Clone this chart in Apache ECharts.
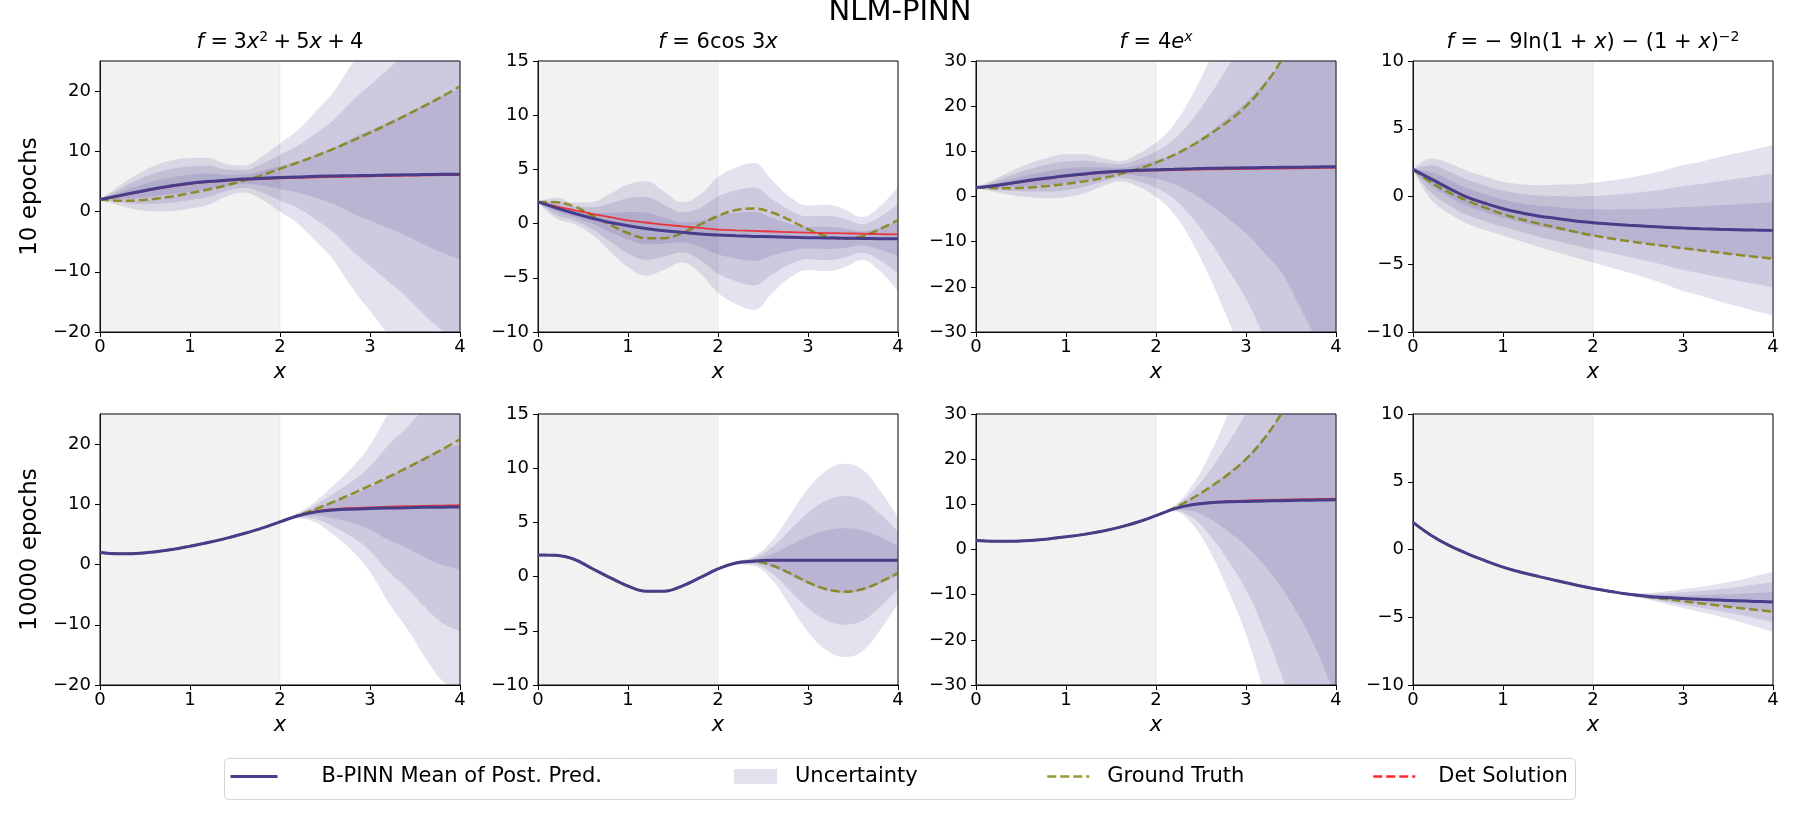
<!DOCTYPE html>
<html><head><meta charset="utf-8">
<script src="https://cdn.jsdelivr.net/npm/echarts@6/dist/echarts.min.js"></script>
<style>html,body{margin:0;padding:0;background:#fff}#c{width:1800px;height:831px}</style>
</head><body><div id="c"></div>
<script>
// ---------------- data ----------------
const xs = [0, 0.2, 0.4, 0.6, 0.8, 1.0, 1.2, 1.4, 1.6, 1.8, 2.0, 2.2, 2.4, 2.6, 2.8, 3.0, 3.2, 3.4, 3.6, 3.8, 4.0];
const trainEnd = 2;

const titles = [
  '{i|f} =\u20053{i|x}{s|2}\u2005+\u20055{i|x}\u2005+\u20054',
  '{i|f} = 6cos 3{i|x}',
  '{i|f} = 4{i|e}{si|x}',
  '{i|f} = \u2212 9ln(1 + {i|x}) \u2212 (1 + {i|x}){s|\u22122}'
];
const rowNames = ['10 epochs', '10000 epochs'];

const yTicks_c1 = [-20, -10, 0, 10, 20];
const yTicks_c2 = [-10, -5, 0, 5, 10, 15];
const yTicks_c3 = [-30, -20, -10, 0, 10, 20, 30];
const yTicks_c4 = [-10, -5, 0, 5, 10];
const yRange_c1 = [-20, 25];
const yRange_c2 = [-10, 15];
const yRange_c3 = [-30, 30];
const yRange_c4 = [-10, 10];

// ground truth per column (same function in both rows)
const truth_c1 = [2.0, 1.8, 1.85, 2.1, 2.5, 3.05, 3.65, 4.35, 5.15, 6.05, 7.1, 8.15, 9.25, 10.45, 11.75, 13.1, 14.5, 16.0, 17.5, 19.1, 20.8];
const truth_c2 = [2.0, 1.97, 1.6, 0.75, -0.1, -0.87, -1.34, -1.34, -0.87, -0.1, 0.71, 1.26, 1.39, 1.02, 0.31, -0.52, -1.16, -1.39, -1.16, -0.51, 0.32];
const truth_c3 = [2.0, 1.85, 1.85, 2.0, 2.35, 2.8, 3.35, 4.05, 4.95, 6.1, 7.5, 9.2, 11.3, 13.8, 16.6, 20.0, 24.5, 30.3, 37, 45, 54];
const truth_c4 = [2.0, 1.05, 0.3, -0.3, -0.82, -1.3, -1.68, -2.0, -2.3, -2.6, -2.88, -3.1, -3.3, -3.48, -3.65, -3.82, -3.98, -4.14, -4.3, -4.45, -4.6];

// row 1 : 10 epochs
const mean_r1_c1 = [2.0, 2.6, 3.2, 3.8, 4.3, 4.7, 5.0, 5.2, 5.4, 5.55, 5.65, 5.75, 5.85, 5.9, 5.95, 6.0, 6.05, 6.1, 6.15, 6.2, 6.2];
const std_r1_c1  = [0, 0.5, 0.95, 1.25, 1.4, 1.4, 1.3, 0.9, 0.75, 1.2, 1.9, 2.6, 3.6, 4.7, 6.2, 7.5, 8.8, 10.1, 11.6, 13.0, 14.2];
const det_r1_c1  = [2.0, 2.5, 3.1, 3.7, 4.2, 4.6, 4.9, 5.1, 5.3, 5.4, 5.5, 5.6, 5.7, 5.75, 5.8, 5.85, 5.9, 5.95, 6.0, 6.05, 6.05];

const mean_r1_c2 = [2.0, 1.45, 0.95, 0.5, 0.1, -0.2, -0.45, -0.65, -0.8, -0.95, -1.05, -1.12, -1.18, -1.22, -1.26, -1.3, -1.32, -1.35, -1.37, -1.39, -1.4];
const std_r1_c2  = [0, 0.32, 0.33, 0.5, 0.88, 1.27, 1.45, 1.2, 0.92, 1.2, 1.78, 2.1, 2.26, 1.74, 1.24, 0.99, 1.02, 0.9, 0.66, 1.0, 1.6];
const det_r1_c2  = [2.0, 1.6, 1.25, 0.9, 0.6, 0.3, 0.1, -0.1, -0.25, -0.4, -0.55, -0.62, -0.68, -0.73, -0.78, -0.83, -0.87, -0.9, -0.93, -0.97, -1.0];

const mean_r1_c3 = [2.0, 2.4, 3.0, 3.6, 4.1, 4.6, 5.0, 5.35, 5.6, 5.8, 5.95, 6.05, 6.15, 6.25, 6.3, 6.35, 6.4, 6.45, 6.5, 6.55, 6.6];
const std_r1_c3  = [0, 0.45, 0.9, 1.25, 1.5, 1.58, 1.45, 1.05, 0.75, 1.2, 2.0, 3.3, 5.4, 8.1, 11.2, 14.5, 18.8, 23.5, 31, 39, 48];
const det_r1_c3  = [2.0, 2.3, 2.85, 3.45, 3.95, 4.45, 4.85, 5.2, 5.45, 5.6, 5.75, 5.85, 5.95, 6.0, 6.05, 6.1, 6.15, 6.2, 6.25, 6.3, 6.35];

const mean_r1_c4 = [2.0, 1.3, 0.6, -0.05, -0.5, -0.9, -1.2, -1.45, -1.62, -1.8, -1.93, -2.03, -2.12, -2.2, -2.27, -2.33, -2.38, -2.42, -2.45, -2.48, -2.5];
const std_r1_c4  = [0, 0.5, 0.62, 0.65, 0.66, 0.66, 0.7, 0.76, 0.83, 0.9, 0.98, 1.07, 1.17, 1.28, 1.4, 1.55, 1.65, 1.77, 1.88, 1.99, 2.1];
const det_r1_c4  = [2.0, 1.3, 0.6, -0.05, -0.5, -0.9, -1.2, -1.45, -1.62, -1.8, -1.93, -2.03, -2.12, -2.2, -2.27, -2.33, -2.38, -2.42, -2.45, -2.48, -2.5];

// row 2 : 10000 epochs
const mean_r2_c1 = [2.0, 1.8, 1.85, 2.1, 2.5, 3.05, 3.65, 4.35, 5.15, 6.05, 7.1, 8.1, 8.75, 9.05, 9.2, 9.3, 9.38, 9.44, 9.5, 9.53, 9.55];
const std_r2_c1  = [0, 0, 0, 0, 0, 0, 0, 0, 0, 0, 0.02, 0.15, 0.6, 1.4, 2.3, 3.5, 5.2, 6.6, 8.2, 9.6, 10.3];
const det_r2_c1  = [2.0, 1.8, 1.85, 2.1, 2.5, 3.05, 3.65, 4.35, 5.15, 6.05, 7.1, 8.1, 8.85, 9.2, 9.4, 9.5, 9.6, 9.68, 9.75, 9.8, 9.85];

const mean_r2_c2 = [2.0, 1.97, 1.6, 0.75, -0.1, -0.87, -1.34, -1.34, -0.87, -0.1, 0.71, 1.26, 1.43, 1.5, 1.5, 1.5, 1.5, 1.5, 1.5, 1.5, 1.5];
const std_r2_c2  = [0, 0, 0, 0, 0, 0, 0, 0, 0, 0, 0, 0.05, 0.15, 0.6, 1.4, 2.2, 2.75, 2.97, 2.8, 2.15, 1.33];
const det_r2_c2  = [2.0, 1.97, 1.6, 0.75, -0.1, -0.87, -1.34, -1.34, -0.87, -0.1, 0.71, 1.26, 1.43, 1.5, 1.5, 1.5, 1.5, 1.5, 1.5, 1.5, 1.5];

const mean_r2_c3 = [2.0, 1.85, 1.85, 2.0, 2.35, 2.8, 3.35, 4.05, 4.95, 6.1, 7.5, 9.0, 9.9, 10.35, 10.55, 10.65, 10.75, 10.82, 10.9, 10.95, 11.0];
const std_r2_c3  = [0, 0, 0, 0, 0, 0, 0, 0, 0, 0, 0, 0.2, 1.4, 3.6, 6.5, 9.8, 14.2, 19.5, 26, 34, 44];
const det_r2_c3  = [2.0, 1.85, 1.85, 2.0, 2.35, 2.8, 3.35, 4.05, 4.95, 6.1, 7.5, 9.0, 9.95, 10.45, 10.7, 10.85, 10.95, 11.05, 11.12, 11.2, 11.25];

const mean_r2_c4 = [2.0, 1.05, 0.3, -0.3, -0.82, -1.3, -1.68, -2.0, -2.3, -2.6, -2.88, -3.1, -3.3, -3.45, -3.55, -3.62, -3.68, -3.73, -3.78, -3.83, -3.87];
const std_r2_c4  = [0, 0, 0, 0, 0, 0, 0, 0, 0, 0, 0, 0, 0.03, 0.08, 0.15, 0.23, 0.31, 0.4, 0.5, 0.62, 0.74];
const det_r2_c4  = [2.0, 1.05, 0.3, -0.3, -0.82, -1.3, -1.68, -2.0, -2.3, -2.6, -2.88, -3.1, -3.3, -3.45, -3.55, -3.62, -3.68, -3.73, -3.78, -3.83, -3.87];

const bandLevels = [3, 2, 1];
const seriesNames = ['B-PINN Mean of Post. Pred.', 'Uncertainty', 'Ground Truth', 'Det Solution'];

// ---------------- layout / style ----------------
const FONT = "'DejaVu Sans', sans-serif";
const colLeft = [100, 538, 976, 1413];
const colW = 360;
const rowTop = [61, 414];
const rowH = 271;
const C_MEAN = '#483D8B';
const C_TRUTH = 'rgba(128,128,0,0.8)';
const C_DET = 'rgba(255,0,0,0.7)';
const C_BAND = 'rgba(72,61,139,0.15)';

const truths = [truth_c1, truth_c2, truth_c3, truth_c4];
const yTicks = [yTicks_c1, yTicks_c2, yTicks_c3, yTicks_c4];
const yRanges = [yRange_c1, yRange_c2, yRange_c3, yRange_c4];
const panels = [
  {mean: mean_r1_c1, std: std_r1_c1, det: det_r1_c1},
  {mean: mean_r1_c2, std: std_r1_c2, det: det_r1_c2},
  {mean: mean_r1_c3, std: std_r1_c3, det: det_r1_c3},
  {mean: mean_r1_c4, std: std_r1_c4, det: det_r1_c4},
  {mean: mean_r2_c1, std: std_r2_c1, det: det_r2_c1},
  {mean: mean_r2_c2, std: std_r2_c2, det: det_r2_c2},
  {mean: mean_r2_c3, std: std_r2_c3, det: det_r2_c3},
  {mean: mean_r2_c4, std: std_r2_c4, det: det_r2_c4}
];

const cats = xs.map(String);
const minusFmt = v => String(v).replace('-', '\u2212');

const grids = [], xAxes = [], yAxes = [], series = [];
panels.forEach((p, idx) => {
  const r = Math.floor(idx / 4), c = idx % 4;
  grids.push({left: colLeft[c], top: rowTop[r], width: colW, height: rowH,
    show: true, borderColor: '#000', borderWidth: 1, backgroundColor: 'transparent'});
  xAxes.push({gridIndex: idx, type: 'category', data: cats, boundaryGap: false,
    axisLine: {show: true, onZero: false, lineStyle: {color: '#000', width: 1}},
    axisTick: {show: true, length: 5, interval: 4, lineStyle: {color: '#000'}},
    axisLabel: {fontSize: 18, fontFamily: FONT, color: '#000', margin: 6, interval: 4},
    splitLine: {show: false},
    name: 'x', nameLocation: 'middle', nameGap: 41,
    nameTextStyle: {fontSize: 21, fontFamily: FONT, fontStyle: 'italic', color: '#000', verticalAlign: 'middle'}});
  const ya = {gridIndex: idx, type: 'value', min: yRanges[c][0], max: yRanges[c][1],
    axisLine: {show: true, onZero: false, lineStyle: {color: '#000', width: 1}},
    axisTick: {show: true, length: 5, lineStyle: {color: '#000'}, customValues: yTicks[c]},
    axisLabel: {fontSize: 18, fontFamily: FONT, color: '#000', margin: 9, customValues: yTicks[c], formatter: minusFmt},
    splitLine: {show: false}};
  if (c === 0) {
    ya.name = rowNames[r];
    ya.nameLocation = 'middle';
    ya.nameGap = 70;
    ya.nameTextStyle = {fontSize: 23, fontFamily: FONT, color: '#000', verticalAlign: 'middle'};
  }
  yAxes.push(ya);

  const common = {xAxisIndex: idx, yAxisIndex: idx, symbol: 'none', showSymbol: false, smooth: 0.4, silent: true, animation: false};
  // uncertainty bands: mean +/- k*std, drawn as stacked areas
  bandLevels.forEach(k => {
    const lower = p.mean.map((m, i) => m - k * p.std[i]);
    const width = p.std.map(s => 2 * k * s);
    const st = 'band_' + idx + '_' + k;
    series.push(Object.assign({}, common, {type: 'line', name: 'band', stack: st, stackStrategy: 'all',
      data: lower, lineStyle: {width: 0, opacity: 0}, z: 2}));
    series.push(Object.assign({}, common, {type: 'line', name: 'band', stack: st, stackStrategy: 'all',
      data: width, lineStyle: {width: 0, opacity: 0},
      areaStyle: {color: C_BAND, opacity: 1}, z: 2}));
  });
  series.push(Object.assign({}, common, {type: 'line', name: seriesNames[2], data: truths[c],
    lineStyle: {color: C_TRUTH, width: 2.5, type: [9, 4]}, itemStyle: {color: C_TRUTH}, z: 3,
    markArea: {silent: true, label: {show: false},
      itemStyle: {color: 'rgba(128,128,128,0.1)', borderColor: 'rgba(128,128,128,0.12)', borderWidth: 1},
      data: [[{xAxis: String(xs[0])}, {xAxis: String(trainEnd)}]]}}));
  series.push(Object.assign({}, common, {type: 'line', name: seriesNames[3], data: p.det,
    lineStyle: {color: C_DET, width: 1.8}, itemStyle: {color: C_DET}, z: 3}));
  series.push(Object.assign({}, common, {type: 'line', name: seriesNames[0], data: p.mean,
    lineStyle: {color: C_MEAN, width: 3}, itemStyle: {color: C_MEAN}, z: 3}));
});
// legend proxy for the uncertainty band
series.push({type: 'line', name: seriesNames[1], xAxisIndex: 0, yAxisIndex: 0, data: [],
  symbol: 'none', itemStyle: {color: '#e3e1ee'}, lineStyle: {width: 0}, areaStyle: {color: '#e3e1ee'}});

const legendItems = [
  {name: seriesNames[0], left: 229, w: 47, pad: 39, line: {width: 3}},
  {name: seriesNames[1], left: 734, w: 43, pad: 13, icon: 'rect'},
  {name: seriesNames[2], left: 1046, w: 42, pad: 13, line: {width: 2.5}},
  {name: seriesNames[3], left: 1372, w: 42, pad: 18, line: {width: 2.5, type: [9, 4], color: 'rgba(255,0,0,0.85)'}}
];
const legends = legendItems.map(it => {
  const lg = {
    left: it.left, top: 766, padding: 0, itemWidth: it.w, itemHeight: 15, selectedMode: false,
    data: [it.icon ? {name: it.name, icon: it.icon} : it.name],
    textStyle: {fontSize: 21, fontFamily: FONT, color: '#000', padding: [0, 0, 0, it.pad]}
  };
  if (!it.icon) {
    lg.lineStyle = it.line;
    lg.itemStyle = {opacity: 0, borderWidth: 0};
  }
  return lg;
});

const richTitle = {
  i: {fontSize: 21, fontFamily: FONT, fontStyle: 'italic', lineHeight: 26, fill: '#000'},
  s: {fontSize: 14, fontFamily: FONT, lineHeight: 14, verticalAlign: 'top', fill: '#000'},
  si: {fontSize: 14, fontFamily: FONT, fontStyle: 'italic', lineHeight: 14, verticalAlign: 'top', fill: '#000'}
};
const graphics = [
  {type: 'rect', left: 224, top: 758, z: 0, silent: true,
    shape: {width: 1351, height: 41, r: 4}, style: {fill: '#fff', stroke: '#d5d5d5', lineWidth: 1}},
  {type: 'text', x: 900, y: 12, silent: true,
    style: {text: 'NLM-PINN', fontSize: 29, fontFamily: FONT, fill: '#000',
      align: 'center', verticalAlign: 'middle', textAlign: 'center', textVerticalAlign: 'middle'}}
];
titles.forEach((t, c) => {
  graphics.push({type: 'text', x: colLeft[c] + colW / 2, y: 43, silent: true,
    style: {text: t, rich: richTitle, fontSize: 21, fontFamily: FONT, lineHeight: 26, fill: '#000',
      align: 'center', verticalAlign: 'middle', textAlign: 'center', textVerticalAlign: 'middle'}});
});

const chart = echarts.init(document.getElementById('c'), null, {renderer: 'canvas'});
chart.setOption({
  animation: false,
  backgroundColor: '#fff',
  textStyle: {fontFamily: FONT},
  grid: grids, xAxis: xAxes, yAxis: yAxes, series: series,
  legend: legends,
  graphic: {elements: graphics}
});
</script>
</body></html>
